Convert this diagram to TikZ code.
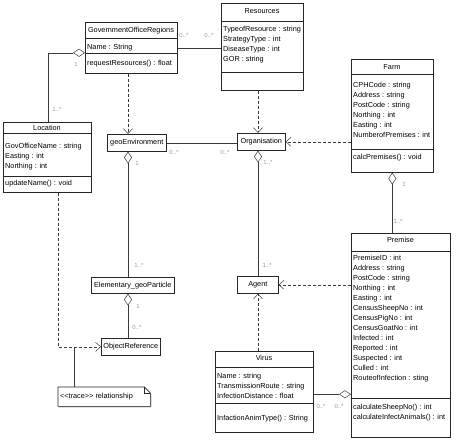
\documentclass[tikz,border=0pt]{standalone}
\usepackage{fontspec}
\setmainfont{Liberation Sans}[Ligatures=TeXOff]
\usepackage{tikz}
\usetikzlibrary{arrows.meta,positioning,calc,shadows}
\definecolor{linegray}{HTML}{3A3A3A}
\definecolor{multgray}{HTML}{9A9A9A}

\begin{document}
\begin{tikzpicture}[x=1pt,y=-1pt,
        cls/.style={draw=black!85,fill=white,line width=0.6pt,anchor=north west,
                    inner sep=0pt,
                    drop shadow={shadow xshift=1pt,shadow yshift=-1pt,opacity=0.35,fill=black}},
        smp/.style={cls,font=\fontsize{7.3}{10}\selectfont,minimum height=17pt},
        cmp/.style={draw=black!85,line width=0.6pt},
        ttl/.style={font=\fontsize{7.3}{10}\selectfont,inner sep=0pt,
                    text height=5.3pt,text depth=1.5pt},
        attr/.style={font=\fontsize{7.3}{10}\selectfont,anchor=north west,
                     align=left,inner sep=0pt},
        mult/.style={font=\fontsize{6}{7}\selectfont,text=multgray,inner sep=0pt},
        assoc/.style={draw=linegray,line width=0.5pt},
        agg/.style={assoc,{Diamond[open,length=12pt,width=8pt]}-},
        dep/.style={assoc,dash pattern=on 3pt off 2pt,
                    -{Straight Barb[length=5pt,width=9pt]}}
      ]
        \useasboundingbox[fill=white] (0,0) rectangle (474,440);

        % classes with compartments
        \node[cls,minimum width=92pt,minimum height=51pt] (gor) at (85,22) {};
        \draw[cmp] (gor.west |- 0,38) -- (gor.east |- 0,38);
        \draw[cmp] (gor.west |- 0,53) -- (gor.east |- 0,53);
        \node[ttl] (gor-t) at (131,30.5) {GovernmentOfficeRegions};
        \node[attr] (gor-a) at (87,44.3) {Name : String};
        \node[attr] (gor-m) at (87,60.3) {requestResources() : float};

        \node[cls,minimum width=82pt,minimum height=87pt] (res) at (221,3) {};
        \draw[cmp] (res.west |- 0,21) -- (res.east |- 0,21);
        \draw[cmp] (res.west |- 0,72) -- (res.east |- 0,72);
        \node[ttl] (res-t) at (262,12) {Resources};
        \node[attr] (res-a) at (223,25.6) {TypeofResource : string\\StrategyType : int\\
          DiseaseType : int\\GOR : string};

        \node[cls,minimum width=82pt,minimum height=113pt] (farm) at (351,59) {};
        \draw[cmp] (farm.west |- 0,74) -- (farm.east |- 0,74);
        \draw[cmp] (farm.west |- 0,149) -- (farm.east |- 0,149);
        \node[ttl] (farm-t) at (392,67.5) {Farm};
        \node[attr] (farm-a) at (353,81.6) {CPHCode : string\\Address : string\\
          PostCode : string\\Northing : int\\Easting : int\\NumberofPremises : int};
        \node[attr] (farm-m) at (353,154.3) {calcPremises() : void};

        \node[cls,minimum width=88pt,minimum height=70pt] (loc) at (3,122) {};
        \draw[cmp] (loc.west |- 0,133) -- (loc.east |- 0,133);
        \draw[cmp] (loc.west |- 0,176) -- (loc.east |- 0,176);
        \node[ttl] (loc-t) at (47,128.5) {Location};
        \node[attr] (loc-a) at (5,143.3) {GovOfficeName : string\\Easting : int\\Northing : int};
        \node[attr] (loc-m) at (5,180) {updateName() : void};

        \node[cls,minimum width=98pt,minimum height=81pt] (virus) at (215,351) {};
        \draw[cmp] (virus.west |- 0,367) -- (virus.east |- 0,367);
        \draw[cmp] (virus.west |- 0,403) -- (virus.east |- 0,403);
        \node[ttl] (virus-t) at (264,358.5) {Virus};
        \node[attr] (virus-a) at (217,373) {Name : string\\TransmissionRoute : string\\
          InfectionDistance : float};
        \node[attr] (virus-m) at (217,415) {InfactionAnimType() : String};

        \node[cls,minimum width=99pt,minimum height=204pt] (premise) at (351,233) {};
        \draw[cmp] (premise.west |- 0,251) -- (premise.east |- 0,251);
        \draw[cmp] (premise.west |- 0,398) -- (premise.east |- 0,398);
        \node[ttl] (premise-t) at (400.5,241) {Premise};
        \node[attr] (premise-a) at (353,255.3) {PremiseID : int\\Address : string\\
          PostCode : string\\Northing : int\\Easting : int\\CensusSheepNo : int\\
          CensusPigNo : int\\CensusGoatNo : int\\Infected : int\\Reported : int\\
          Suspected : int\\Culled : int\\RouteofInfection : sting};
        \node[attr] (premise-m) at (353,404) {calculateSheepNo() : int\\
          calculateInfectAnimals() : int};

        % plain classes
        \node[smp,minimum width=59pt] (geo) at (107,134) {geoEnvironment};
        \node[smp,minimum width=48pt] (org) at (237,133) {Organisation};
        \node[smp,minimum width=83pt,minimum height=16pt] (elem) at (91,277) {Elementary\_geoParticle};
        \node[smp,minimum width=59pt] (objref) at (101,338) {ObjectReference};
        \node[smp,minimum width=41pt] (agent) at (237,276) {Agent};

        % note
        \node[minimum width=92pt,minimum height=19pt,inner sep=0pt,anchor=north west] (note) at (58,387) {};
        \draw[cmp,fill=white,drop shadow={shadow xshift=1pt,shadow yshift=-1pt,opacity=0.35,fill=black}]
          (note.north west) -- ([xshift=-6pt]note.north east) -- ([yshift=-6pt]note.north east)
          -- (note.south east) -- (note.south west) -- cycle;
        \draw[cmp] ([xshift=-6pt]note.north east) |- ([yshift=-6pt]note.north east);
        \node[ttl,anchor=west] (note-t) at (60,396.5) {<<trace>> relationship};

        \coordinate (colg) at (128,0);
        \coordinate (colo) at (258,0);

        % connectors
        \draw[assoc] (gor.east) -- (gor.east -| res.west);
        \draw[agg] ([yshift=-5pt]gor.west) -| ([xshift=1pt]loc.north);
        \draw[dep] (gor.south -| colg) -- (geo.north -| colg);
        \draw[dep] (res.south -| colo) -- (org.north -| colo);
        \draw[dep] (org.east -| farm.west) -- (org.east);
        \draw[assoc] (geo.east) -- (geo.east -| org.west);
        \draw[agg] (geo.south -| colg) -- (elem.north -| colg);
        \draw[agg] (elem.south -| colg) -- (objref.north -| colg);
        \draw[agg] (org.south -| colo) -- (agent.north -| colo);
        \draw[dep] (agent.east -| premise.west) -- (agent.east);
        \draw[dep] (virus.north -| colo) -- (agent.south -| colo);
        \draw[agg] (farm.south) -- (farm.south |- premise.north);
        \draw[agg] ([yshift=-2.5pt]virus.east -| premise.west) -- ([yshift=-2.5pt]virus.east);
        \draw[dep] ([xshift=11pt]loc.south) |- (objref.west);
        \draw[assoc] ([xshift=-30pt]note.north) -- ([xshift=-30pt]note.north |- objref.west);

        % multiplicities
        \node[mult] (m-gor) at (184,35) {0..*};
        \node[mult] (m-res) at (209,35) {0..*};
        \node[mult] (m-gor1) at (76,64) {1};
        \node[mult] (m-loc) at (57,109) {1..*};
        \node[mult] (m-geo) at (174,152.5) {0..*};
        \node[mult] (m-org) at (225,152.5) {0..*};
        \node[mult] (m-geo1) at (137,163) {1};
        \node[mult] (m-elem) at (139,265) {1..*};
        \node[mult] (m-elem1) at (138,306) {1};
        \node[mult] (m-obj) at (137,327) {0..*};
        \node[mult] (m-org1) at (268,162.5) {1..*};
        \node[mult] (m-agent) at (267,265) {1..*};
        \node[mult] (m-farm) at (404,184) {1};
        \node[mult] (m-prem) at (398,221.5) {1..*};
        \node[mult] (m-virus) at (321,406) {0..*};
        \node[mult] (m-prem2) at (339,406) {0..*};
      \end{tikzpicture}
\end{document}
